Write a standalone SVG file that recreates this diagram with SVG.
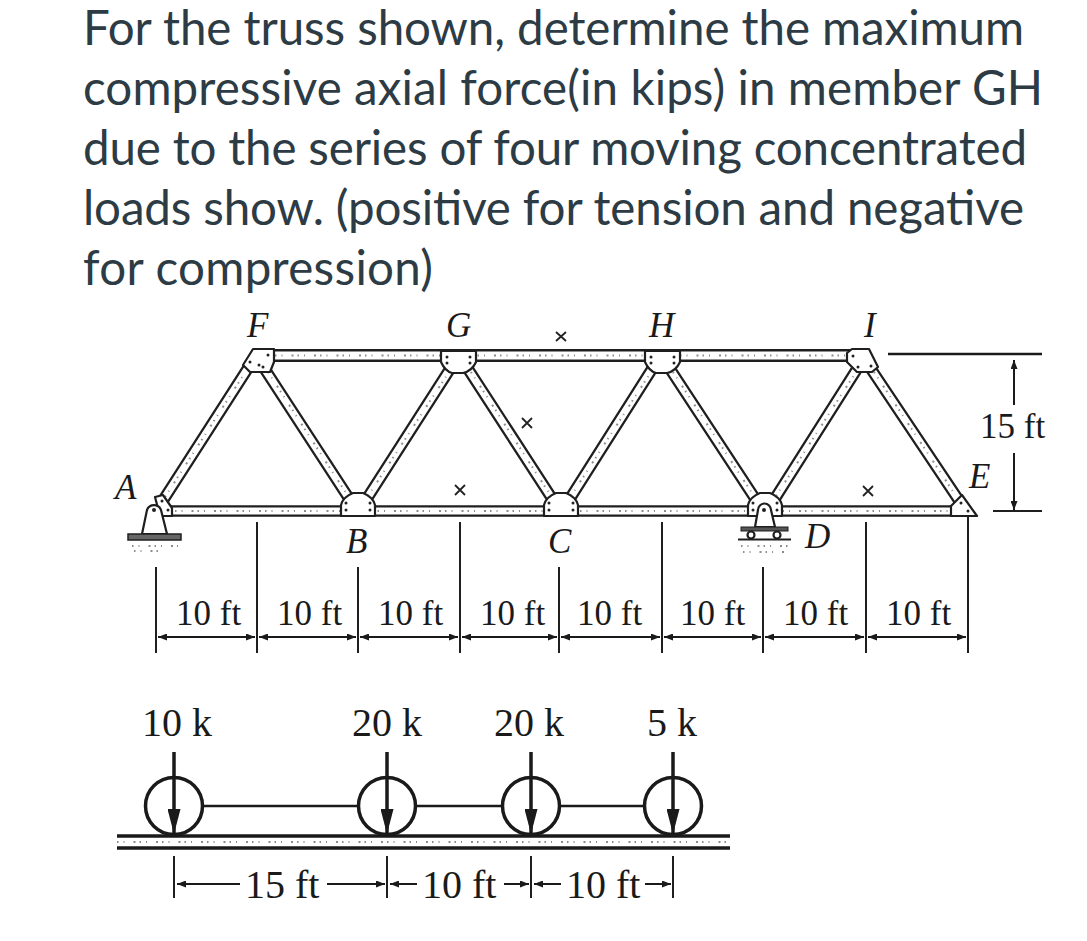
<svg xmlns="http://www.w3.org/2000/svg" width="1087" height="941" viewBox="0 0 1087 941">
<style>
.h{font-family:"Lato","Open Sans",sans-serif;font-size:47.5px;fill:#2d3b45}
.s{font-family:"Liberation Serif","Times New Roman",serif;fill:#1a1a1a}
.l{font-style:italic;font-size:35px}
.d{font-size:35px}
.k{font-size:40px}
.mo{stroke:#1f1f1f;fill:none}
.mi{stroke:#fff;fill:none}
.sp{stroke:#8c8c8c;fill:none;stroke-width:2;stroke-dasharray:1.5 5 1 9 2 4}
.p{fill:#fff;stroke:#1f1f1f;stroke-width:2.2;stroke-linejoin:round}
.r{fill:#222}
.t{stroke:#1f1f1f;stroke-width:2;fill:none}
.x{stroke:#222;stroke-width:1.8;fill:none}
.w{fill:#fff;stroke:#1a1a1a;stroke-width:3.5}
.a{stroke:#1a1a1a;stroke-width:2.5;fill:none}
.n{stroke-width:2}
.b{stroke-width:3.5}
.g{fill:#aaa}
</style>
<defs>
<marker id="ah" viewBox="0 0 10 10" refX="10" refY="5" markerWidth="9" markerHeight="7" markerUnits="userSpaceOnUse" orient="auto-start-reverse" preserveAspectRatio="none"><path d="M0 0L10 5L0 10Z" fill="#1a1a1a"/></marker>
<marker id="lh" viewBox="0 0 10 10" refX="10" refY="5" markerWidth="25" markerHeight="13" markerUnits="userSpaceOnUse" orient="auto" preserveAspectRatio="none"><path d="M0 0L10 5L0 10Z" fill="#1a1a1a"/></marker>
</defs>
<rect width="1087" height="941" fill="#fff"/>
<g id="question">
<text class="h" x="83" y="45" textLength="941">For the truss shown, determine the maximum</text>
<text class="h" x="83" y="105" textLength="960">compressive axial force(in kips) in member GH</text>
<text class="h" x="83" y="165" textLength="944">due to the series of four moving concentrated</text>
<text class="h" x="83" y="225" textLength="941">loads show. (positive for tension and negative</text>
<text class="h" x="83" y="285" textLength="350">for compression)</text>
</g>
<g id="connectors">
<g class="mo" stroke-width="13"><path d="M260 355.5H860"/></g>
<g class="mo" stroke-width="11.5"><path d="M165 511H965"/></g>
<g class="mo" stroke-width="12"><path d="M162 502L250 365M264 368L350 500M366 500L450 369M468 369L553 500M569 500L652 369M670 369L756 500M774 500L857 369M871 369L962 505"/></g>
<g class="mi" stroke-width="8"><path d="M260 355.5H860"/></g>
<g class="mi" stroke-width="7"><path d="M165 511H965"/></g>
<g class="mi" stroke-width="7.5"><path d="M162 502L250 365M264 368L350 500M366 500L450 369M468 369L553 500M569 500L652 369M670 369L756 500M774 500L857 369M871 369L962 505"/></g>
<path class="sp" d="M275 355.5H860M175 511H965M165 497L248 368M268 372L348 496M368 496L449 372M471 372L551 496M571 496L651 372M673 372L754 496M776 496L856 372M874 372L960 502"/>
</g>
<g id="node-F"><path class="p" d="M253 349L274 349L274 362L270 372L250 372L243 365Z"/><circle class="r" cx="250" cy="362" r="1.5"/><circle class="r" cx="259" cy="365" r="1.5"/><circle class="r" cx="268" cy="355" r="1.5"/><circle class="r" cx="263" cy="367" r="1.5"/><text class="s l" x="247" y="337">F</text></g>
<g id="node-G"><path class="p" d="M441 351H476V362Q472 371 463 373H452Q445 371 441 362Z"/><circle class="r" cx="447" cy="357" r="1.5"/><circle class="r" cx="470" cy="357" r="1.5"/><circle class="r" cx="447" cy="363" r="1.5"/><circle class="r" cx="470" cy="363" r="1.5"/><text class="s l" x="446" y="337">G</text></g>
<g id="node-H"><path class="p" d="M645 351H680V362Q676 371 667 373H656Q649 371 645 362Z"/><circle class="r" cx="651" cy="357" r="1.5"/><circle class="r" cx="674" cy="357" r="1.5"/><circle class="r" cx="651" cy="363" r="1.5"/><circle class="r" cx="674" cy="363" r="1.5"/><text class="s l" x="649" y="337">H</text></g>
<g id="node-I"><path class="p" d="M852 349H869L878 367L872 372H857L847 362V353Z"/><circle class="r" cx="853" cy="356" r="1.5"/><circle class="r" cx="858" cy="367" r="1.5"/><circle class="r" cx="871" cy="366" r="1.5"/><text class="s l" x="864" y="337">I</text></g>
<g id="node-A"><path class="p" d="M155 497L163 495L172 508V516H160Z"/><circle class="r" cx="162" cy="501" r="1.5"/><circle class="r" cx="168" cy="510" r="1.5"/><path class="p" d="M142 534L147 510A7.5 7.5 0 0 1 161 510L167 534Z"/><circle class="r" cx="154" cy="510" r="2"/><rect x="128" y="534" width="53" height="6" fill="#666" stroke="#1f1f1f" stroke-width="1.5"/><path class="sp" d="M132 546H178M134 551H160"/><text class="s l" x="115" y="499">A</text></g>
<g id="node-B"><path class="p" d="M341 516V505Q343 497 353 493H363Q373 497 375 505V516Z"/><circle class="r" cx="346" cy="503" r="1.5"/><circle class="r" cx="370" cy="503" r="1.5"/><circle class="r" cx="346" cy="510" r="1.5"/><circle class="r" cx="370" cy="510" r="1.5"/><text class="s l" x="346" y="553">B</text></g>
<g id="node-C"><path class="p" d="M544 516V505Q546 497 556 493H566Q576 497 578 505V516Z"/><circle class="r" cx="549" cy="503" r="1.5"/><circle class="r" cx="573" cy="503" r="1.5"/><circle class="r" cx="549" cy="510" r="1.5"/><circle class="r" cx="573" cy="510" r="1.5"/><text class="s l" x="548" y="553">C</text></g>
<g id="node-D"><path class="p" d="M748 516V505Q750 497 760 493H770Q780 497 782 505V516Z"/><circle class="r" cx="753" cy="503" r="1.5"/><circle class="r" cx="777" cy="503" r="1.5"/><circle class="r" cx="753" cy="510" r="1.5"/><circle class="r" cx="777" cy="510" r="1.5"/><path class="p" d="M755 527L758 510A6.5 6.5 0 0 1 771 510L775 527Z"/><circle class="r" cx="764" cy="510" r="2"/><rect x="741" y="527" width="47" height="4" fill="#555" stroke="#1f1f1f" stroke-width="1"/><circle class="p" cx="751" cy="535" r="3.5"/><circle class="p" cx="777" cy="535" r="3.5"/><path class="t" d="M738 539.5H791"/><path class="sp" d="M741 546H789M743 552H787"/><text class="s l" x="805" y="548">D</text></g>
<g id="node-E"><path class="p" d="M951 516V506L962 495L977 516Z"/><circle class="r" cx="961" cy="503" r="1.5"/><circle class="r" cx="968" cy="511" r="1.5"/><text class="s l" x="969" y="488">E</text></g>
<g id="markers"><path class="x" d="M556 332L566 341M566 332L556 341M522 418L532 428M532 418L522 428M455 485L465 495M465 485L455 495M863 486L873 496M873 486L863 496"/></g>
<g id="dimensions">
<path class="t" d="M156 567V653M257 522V653M358 567V653M460 522V653M559 567V653M662 522V653M763 567V653M866 522V653M968 517V653"/>
<path class="a n" marker-start="url(#ah)" marker-end="url(#ah)" d="M158 637H255"/>
<path class="a n" marker-start="url(#ah)" marker-end="url(#ah)" d="M259 637H356"/>
<path class="a n" marker-start="url(#ah)" marker-end="url(#ah)" d="M360 637H458"/>
<path class="a n" marker-start="url(#ah)" marker-end="url(#ah)" d="M462 637H557"/>
<path class="a n" marker-start="url(#ah)" marker-end="url(#ah)" d="M561 637H660"/>
<path class="a n" marker-start="url(#ah)" marker-end="url(#ah)" d="M664 637H761"/>
<path class="a n" marker-start="url(#ah)" marker-end="url(#ah)" d="M765 637H864"/>
<path class="a n" marker-start="url(#ah)" marker-end="url(#ah)" d="M868 637H966"/>
<text class="s d" x="176" y="625">10 ft</text><text class="s d" x="277" y="625">10 ft</text><text class="s d" x="378" y="625">10 ft</text><text class="s d" x="480" y="625">10 ft</text><text class="s d" x="577" y="625">10 ft</text><text class="s d" x="680" y="625">10 ft</text><text class="s d" x="783" y="625">10 ft</text><text class="s d" x="886" y="625">10 ft</text>
<path class="a" d="M888 354H1042"/><path class="t" d="M993 511H1042"/>
<path class="a n" marker-end="url(#ah)" d="M1014 405V360"/>
<path class="a n" marker-end="url(#ah)" d="M1014 453V510"/>
<text class="s d" x="980" y="438">15 ft</text>
</g>
<g id="track"><path class="a b" d="M117 836H730M117 848H730"/><path class="sp" d="M117 842H730"/></g>
<g id="coupling"><path class="a" d="M203 806H359M416 806H502M560 806H645"/></g>
<g id="wheel-1"><circle class="w" cx="174" cy="806" r="28.5"/><path class="a b" marker-end="url(#lh)" d="M174 752V834"/><text class="s k" x="142" y="736">10 k</text></g>
<g id="wheel-2"><circle class="w" cx="387" cy="806" r="28.5"/><path class="a b" marker-end="url(#lh)" d="M387 752V834"/><text class="s k" x="352" y="736">20 k</text></g>
<g id="wheel-3"><circle class="w" cx="531" cy="806" r="28.5"/><path class="a b" marker-end="url(#lh)" d="M531 752V834"/><text class="s k" x="494" y="736">20 k</text></g>
<g id="wheel-4"><circle class="w" cx="673" cy="806" r="28.5"/><path class="a b" marker-end="url(#lh)" d="M673 752V834"/><text class="s k" x="647" y="736">5 k</text></g>
<g id="spacing">
<path class="t" d="M174 856V898M387 856V898M531 856V898M673 856V898"/>
<path class="a n" marker-start="url(#ah)" d="M177 884H240"/>
<path class="a n" marker-end="url(#ah)" d="M327 884H385"/>
<path class="a n" marker-start="url(#ah)" d="M390 884H417"/>
<path class="a n" marker-end="url(#ah)" d="M504 884H529"/>
<path class="a n" marker-start="url(#ah)" d="M534 884H561"/>
<path class="a n" marker-end="url(#ah)" d="M645 884H671"/>
<text class="s k" x="245" y="898">15 ft</text><text class="s k" x="422" y="898">10 ft</text><text class="s k" x="566" y="898">10 ft</text>
</g>
</svg>
